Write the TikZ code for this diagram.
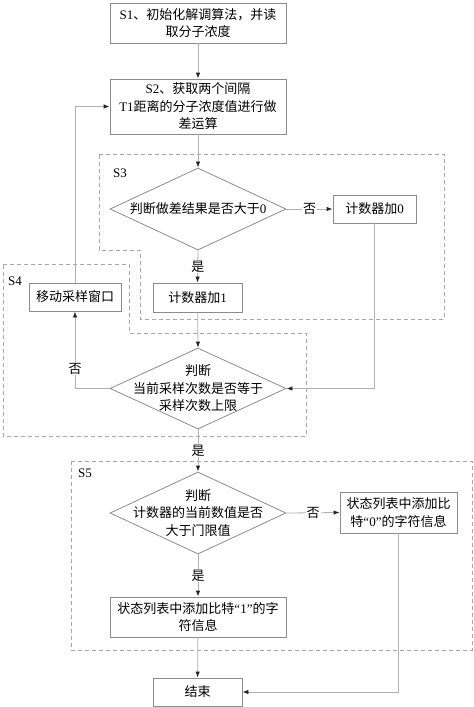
\documentclass[tikz,border=0pt]{standalone}
\usepackage{fontspec}
\setmainfont{Noto Sans CJK SC}
\newfontfamily\lat{Liberation Serif}
\usetikzlibrary{arrows.meta,shapes.geometric}
\definecolor{boxc}{HTML}{8C8C8C}
\definecolor{linec}{HTML}{B0B0B0}
\definecolor{dashc}{HTML}{A8A8A8}
\tikzset{
  box/.style={draw=boxc,line width=0.8pt,rectangle,inner sep=1pt,align=center,font=\fontsize{13}{17.5}\selectfont},
  dia/.style={draw=boxc,line width=0.8pt,diamond,inner sep=0pt,shape aspect=2},
  dtext/.style={align=center,inner sep=0pt,font=\fontsize{13}{17.5}\selectfont},
  conn/.style={draw=linec,line width=0.8pt,-{Latex[length=6pt,width=4.5pt,color=black!85]}},
  plain/.style={draw=linec,line width=0.8pt},
  yn/.style={fill=white,inner sep=1pt,font=\fontsize{13}{15}\selectfont},
  region/.style={draw=dashc,line width=0.8pt,dash pattern=on 4pt off 3pt},
  slabel/.style={font=\lat\fontsize{13}{15}\selectfont,inner sep=0pt}
}
\begin{document}
\begin{tikzpicture}[x=1pt,y=-1pt]
\useasboundingbox (0,0) rectangle (474,707);
% regions
\draw[region] (99,154) -- (444,154) -- (444,319) -- (140,319) -- (140,250) -- (99,250) -- cycle;
\draw[region] (3,264) -- (129,264) -- (129,333) -- (306,333) -- (306,436) -- (3,436) -- cycle;
\draw[region] (71,461) rectangle (472,650);
\node[slabel] (l3) at (120,173) {S3};
\node[slabel] (l4) at (15,281) {S4};
\node[slabel] (l5) at (85,473) {S5};
% nodes
\node[box,minimum width=176pt,minimum height=40pt] (s1) at (198,23) {{\lat S1}、初始化解调算法，并读\\取分子浓度};
\node[box,minimum width=176pt,minimum height=55pt] (s2) at (198,106.5) {{\lat S2}、获取两个间隔\\{\lat T1}距离的分子浓度值进行做\\差运算};
\node[dia,minimum width=176pt,minimum height=82pt] (d1) at (198,209) {};
\node[dtext] (t1) at (d1.center) {判断做差结果是否大于{\lat 0}};
\node[box,minimum width=83pt,minimum height=28pt] (b0) at (374.5,209) {计数器加{\lat 0}};
\node[box,minimum width=89pt,minimum height=29pt] (b1) at (197.5,297.5) {计数器加{\lat 1}};
\node[box,minimum width=92pt,minimum height=28pt] (mv) at (75,297) {移动采样窗口};
\node[dia,minimum width=176pt,minimum height=81pt] (d2) at (198,388.5) {};
\node[dtext] (t2) at (d2.center) {判断\\当前采样次数是否等于\\采样次数上限};
\node[dia,minimum width=176pt,minimum height=82pt] (d3) at (198,513) {};
\node[dtext] (t3) at (d3.center) {判断\\计数器的当前数值是否\\大于门限值};
\node[box,minimum width=117pt,minimum height=41pt] (br) at (398.5,512.5) {状态列表中添加比\\特{\lat “0”}的字符信息};
\node[box,minimum width=176pt,minimum height=40pt] (by) at (198,617) {状态列表中添加比特{\lat “1”}的字\\符信息};
\node[box,minimum width=89pt,minimum height=28pt] (en) at (197.5,692) {结束};
% connectors
\draw[conn] (s1) -- (s2);
\draw[conn] (s2) -- (d1);
\draw[conn] (d1.east) -- node[yn] (n1) {否} (b0.west);
\draw[conn] (d1.south) -- node[yn] (y1) {是} (b1.north);
\draw[conn] (b1) -- (d2.north);
\draw[conn] (b0.south) |- (d2.east);
\coordinate (c1) at (75,388.5);
\draw[plain] (d2.west) -- (c1);
\draw[conn] (c1) -- node[yn,pos=0.26] (n2) {否} (mv.south);
\draw[conn] (mv.north) |- (s2.west);
\draw[conn] (d2.south) -- node[yn] (y2) {是} (d3.north);
\draw[conn] (d3.east) -- node[yn] (n3) {否} (br.west);
\draw[conn] (d3.south) -- node[yn] (y3) {是} (by.north);
\draw[conn] (by) -- (en);
\draw[conn] (br.south) |- (en.east);
\end{tikzpicture}
\end{document}
